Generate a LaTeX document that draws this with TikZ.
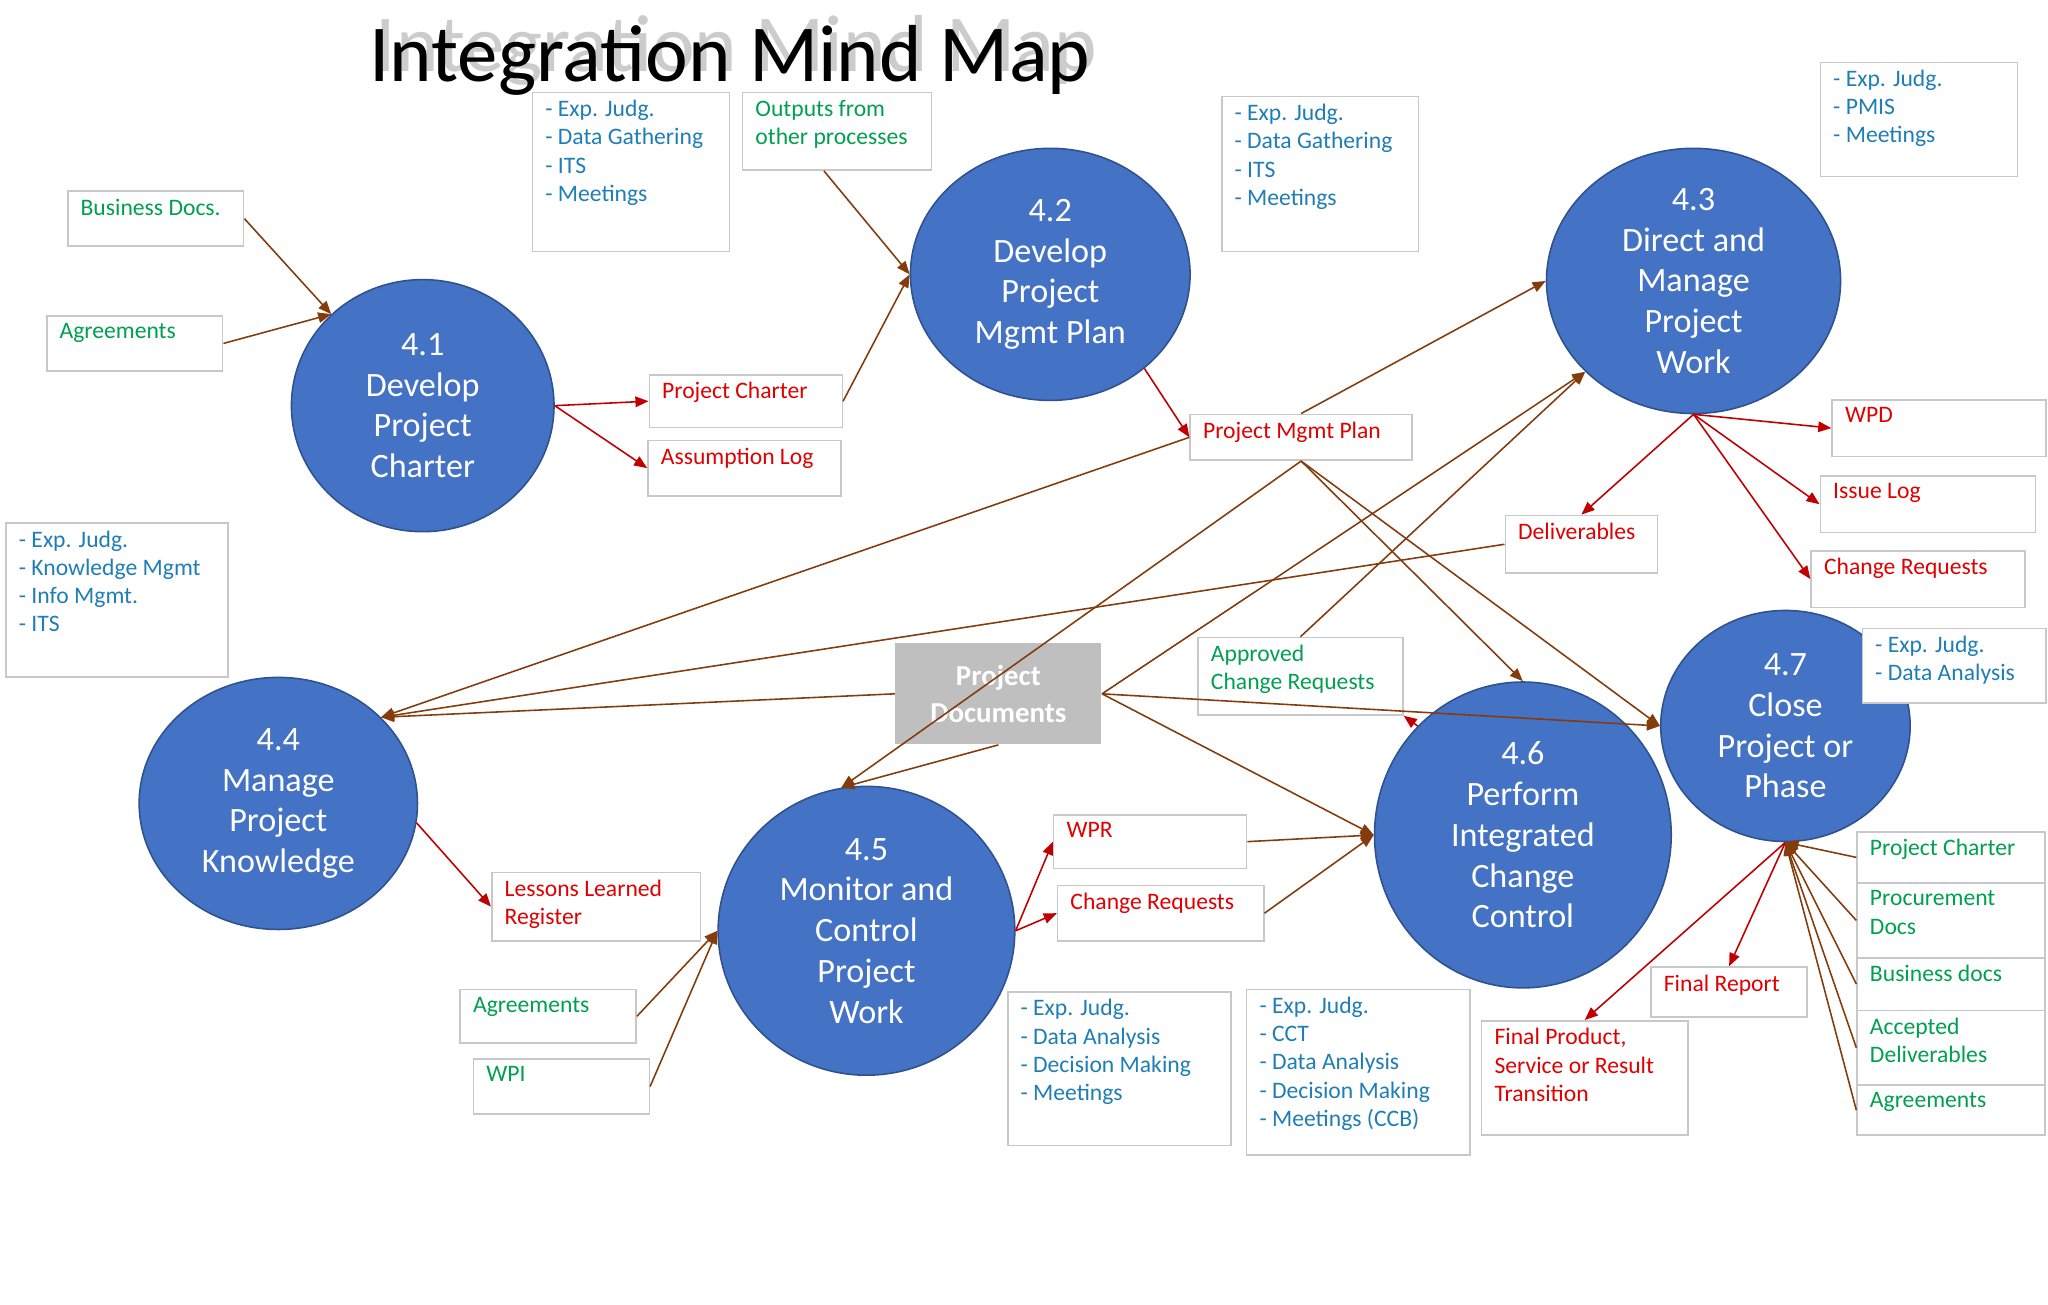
\documentclass[tikz,border=0pt]{standalone}
\usepackage{fontspec}
\setmainfont{Carlito}
\usetikzlibrary{shapes.geometric,arrows.meta}
\definecolor{cfill}{HTML}{4472C4}
\definecolor{cedge}{HTML}{2F528F}
\definecolor{tblue}{HTML}{1F7EB5}
\definecolor{tgreen}{HTML}{00A050}
\definecolor{tred}{HTML}{E00000}
\definecolor{brn}{HTML}{843C0C}
\definecolor{ared}{HTML}{C00000}
\definecolor{bgray}{HTML}{C8C8C8}
\tikzset{
 proc/.style={ellipse,fill=cfill,draw=cedge,line width=0.6pt,inner sep=0pt,text=white,align=center,font=\fontsize{13}{15.5}\selectfont},
 box/.style={draw=bgray,fill=white,line width=0.6pt,anchor=north west,inner sep=0pt},
 lbl/.style={anchor=north west,inner sep=0pt,xshift=5pt,yshift=-3pt,align=left,font=\fontsize{9}{10.75}\selectfont},
 ba/.style={draw=brn,line width=0.6pt,-{Triangle[length=5pt,width=4pt]}},
 ra/.style={draw=ared,line width=0.6pt,-{Triangle[length=5pt,width=4pt]}},
}
\newcommand{\bx}[7]{% name x1 y1 x2 y2 color text
 \node[box,minimum width={(#4-#2)*0.5pt},minimum height={(#5-#3)*0.5pt},
  label={[lbl,text=#6]north west:{#7}}] (#1) at (#2,#3) {};}
\begin{document}
\begin{tikzpicture}[x=0.5pt,y=-0.5pt]
\useasboundingbox (0,0) rectangle (1560,994);
% title
\node[anchor=west,inner sep=0pt,text=gray!40,font=\fontsize{30.8}{31}\selectfont] (tsh) at (286,38) {Integration Mind Map};
\node[anchor=west,inner sep=0pt,font=\fontsize{30.8}{31}\selectfont] (title) at (281,46) {Integration Mind Map};
% processes
\node[proc,minimum width=100pt,minimum height=96pt] (c41) at (322,309) {4.1\\Develop\\Project\\Charter};
\node[proc,minimum width=106.5pt,minimum height=96pt] (c42) at (800,209) {4.2\\Develop\\Project\\Mgmt Plan};
\node[proc,minimum width=112pt,minimum height=101pt] (c43) at (1290,214) {4.3\\Direct and\\Manage\\Project\\Work};
\node[proc,minimum width=106pt,minimum height=96pt] (c44) at (212,612) {4.4\\Manage\\Project\\Knowledge};
\node[proc,minimum width=113pt,minimum height=110pt] (c45) at (660,709) {4.5\\Monitor and\\Control\\Project\\Work};
\node[proc,minimum width=113pt,minimum height=116.5pt] (c46) at (1160,636) {4.6\\Perform\\Integrated\\Change\\Control};
\node[proc,minimum width=95pt,minimum height=88pt] (c47) at (1360,553) {4.7\\Close\\Project or\\Phase};
\node[fill=gray!50,text=white,minimum width=78.5pt,minimum height=38.5pt,inner sep=0pt,align=center,font=\bfseries\fontsize{11}{14}\selectfont] (pd) at (760.5,528.5) {Project\\Documents};
% boxes
\bx{bd}{51}{145}{185}{187}{tgreen}{Business Docs.}
\bx{ag1}{35}{240}{169}{282}{tgreen}{Agreements}
\bx{l1}{405}{70}{555}{191}{tblue}{- Exp. Judg.\\- Data Gathering\\- ITS\\- Meetings}
\bx{op}{565}{70}{709}{129}{tgreen}{Outputs from\\other processes}
\bx{l2}{930}{73}{1080}{191}{tblue}{- Exp. Judg.\\- Data Gathering\\- ITS\\- Meetings}
\bx{l3}{1386}{47}{1536}{134}{tblue}{- Exp. Judg.\\- PMIS\\- Meetings}
\bx{pc}{494}{285}{641}{325}{tred}{Project Charter}
\bx{al}{493}{335}{640}{377}{tred}{Assumption Log}
\bx{pmp}{906}{315}{1075}{350}{tred}{Project Mgmt Plan}
\bx{wpd}{1395}{304}{1558}{347}{tred}{WPD}
\bx{il}{1386}{362}{1550}{405}{tred}{Issue Log}
\bx{dl}{1146}{392}{1262}{436}{tred}{Deliverables}
\bx{cr1}{1379}{419}{1542}{462}{tred}{Change Requests}
\bx{l4}{4}{398}{173}{515}{tblue}{- Exp. Judg.\\- Knowledge Mgmt\\- Info Mgmt.\\- ITS}
\bx{l5}{1418}{478}{1558}{535}{tblue}{- Exp. Judg.\\- Data Analysis}
\bx{llr}{374}{664}{533}{716}{tred}{Lessons Learned\\Register}
\bx{wpr}{802}{620}{949}{661}{tred}{WPR}
\bx{cr2}{805}{674}{962}{716}{tred}{Change Requests}
\bx{ag2}{350}{753}{484}{794}{tgreen}{Agreements}
\bx{wpi}{360}{806}{494}{848}{tgreen}{WPI}
\bx{l6}{767}{755}{937}{872}{tblue}{- Exp. Judg.\\- Data Analysis\\- Decision Making\\- Meetings}
\bx{l7}{949}{753}{1119}{879}{tblue}{- Exp. Judg.\\- CCT\\- Data Analysis\\- Decision Making\\- Meetings (CCB)}
\bx{fr}{1257}{736}{1376}{774}{tred}{Final Report}
\bx{fp}{1128}{777}{1285}{864}{tred}{Final Product,\\Service or Result\\Transition}
\bx{g1}{1414}{633}{1557}{672}{tgreen}{Project Charter}
\bx{g2}{1414}{672}{1557}{729}{tgreen}{Procurement\\Docs}
\bx{g3}{1414}{729}{1557}{769}{tgreen}{Business docs}
\bx{g4}{1414}{769}{1557}{826}{tgreen}{Accepted\\Deliverables}
\bx{g5}{1414}{826}{1557}{864}{tgreen}{Agreements}
\node[box,draw=bgray,fill=none,minimum width=78pt,minimum height=29.5pt,
  label={[lbl,text=tgreen]north west:{Approved\\Change Requests}}] (acr) at (912,485) {};
% connectors
\draw[ba] (bd.east) -- (c41.135);
\draw[ba] (ag1.east) -- (c41.135);
\draw[ra] (c41.east) -- (pc.west);
\draw[ra] (c41.east) -- (al.west);
\draw[ba] (pc.east) -- (c42.west);
\draw[ba] ([xshift=-5pt]op.south) -- (c42.west);
\draw[ra] (c42.-45) -- (pmp.west);
\draw[ba] (pmp.north) -- (c43.west);
\draw[ba] (pmp.west) -- (c44.40);
\draw[ba] (pmp.south) -- (c45.100);
\draw[ba] (pmp.south) -- (c46.north);
\draw[ba] (pmp.south) -- (c47.west);
\draw[ra] (c43.south) -- (wpd.west);
\draw[ra] (c43.south) -- (il.west);
\draw[ra] (c43.south) -- (cr1.west);
\draw[ra] (c43.south) -- (dl.north);
\draw[ba] (dl.west) -- (c44.40);
\draw[ba] (pd.east) -- (c43.-140);
\draw[ba] (acr.north) -- (c43.-140);
\draw[ba] (pd.west) -- (c44.40);
\draw[ba] (pd.south) -- (c45.100);
\draw[ba] (pd.east) -- (c46.west);
\draw[ba] (pd.east) -- (c47.west);
\draw[ra] (c46.134) -- (acr.south east);
\draw[ra] (c44.-8) -- (llr.west);
\draw[ba] (ag2.east) -- (c45.west);
\draw[ba] (wpi.east) -- (c45.west);
\draw[ra] (c45.east) -- (wpr.west);
\draw[ra] (c45.east) -- (cr2.west);
\draw[ba] (wpr.east) -- (c46.west);
\draw[ba] (cr2.east) -- (c46.west);
\draw[ra] (c47.south) -- (fr.north);
\draw[ra] (c47.south) -- (fp.north);
\foreach \g in {g1,g2,g3,g4,g5}{\draw[ba] (\g.west) -- (c47.south);}
\end{tikzpicture}
\end{document}
